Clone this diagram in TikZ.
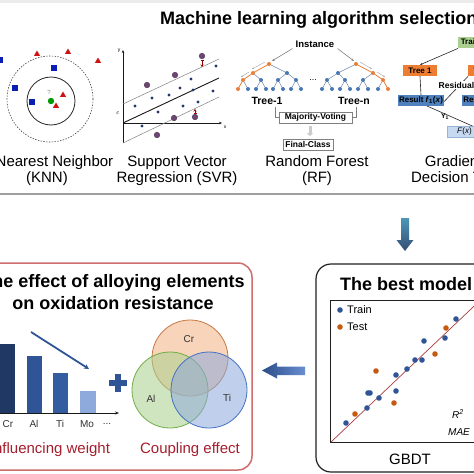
\documentclass[tikz,border=0pt]{standalone}
\usepackage{fontspec}
\setmainfont{Liberation Sans}
\usetikzlibrary{arrows.meta,shapes.geometric}
\newcommand\setfs[1]{\fontsize{#1}{#1}\selectfont}
\definecolor{knnred}{RGB}{205,20,20}
\definecolor{knnblue}{RGB}{10,30,180}
\definecolor{svrdot}{RGB}{35,55,110}
\definecolor{svrpurp}{RGB}{110,70,115}
\definecolor{rforange}{RGB}{232,128,58}
\definecolor{rfblue}{RGB}{70,120,180}
\definecolor{rfedge}{RGB}{120,140,170}
\definecolor{gborange}{RGB}{237,125,49}
\definecolor{gbblue}{RGB}{79,129,189}
\definecolor{gblight}{RGB}{198,217,241}
\definecolor{gbgreen}{RGB}{169,208,142}
\definecolor{redtxt}{RGB}{165,30,45}
\definecolor{redbox}{RGB}{205,110,110}
\definecolor{navy1}{RGB}{31,56,100}
\definecolor{navy2}{RGB}{47,85,151}
\definecolor{navy3}{RGB}{52,92,160}
\definecolor{navy4}{RGB}{142,169,219}
\definecolor{crfill}{RGB}{244,177,131}
\definecolor{crdraw}{RGB}{197,120,70}
\definecolor{alfill}{RGB}{169,209,142}
\definecolor{aldraw}{RGB}{112,173,71}
\definecolor{tifill}{RGB}{142,169,219}
\definecolor{tidraw}{RGB}{68,114,196}
\definecolor{trainc}{RGB}{47,85,151}
\definecolor{testc}{RGB}{197,90,17}
\definecolor{fitline}{RGB}{170,60,60}
\tikzset{
  tri/.style={regular polygon,regular polygon sides=3,fill=knnred,inner sep=0pt,minimum size=7pt},
  sq/.style={rectangle,fill=knnblue,inner sep=0pt,minimum size=6pt},
  rfbox/.style={draw=gray,line width=0.6pt,inner sep=0pt,minimum height=11pt,font=\setfs{8.5}\bfseries},
  gbbox/.style={inner sep=0pt,minimum height=11pt,font=\setfs{8}\bfseries},
  ttl/.style={font=\setfs{18}\bfseries,inner sep=0pt},
  lbl/.style={font=\setfs{15},inner sep=0pt},
  redlbl/.style={font=\setfs{15},text=redtxt,inner sep=0pt},
  small/.style={font=\setfs{10},inner sep=0pt,text=black!80},
  ob/.style={fill=rfblue},
  oo/.style={fill=rforange},
  te/.style={draw=rfedge,line width=0.5pt},
  to/.style={draw=rforange,line width=0.8pt},
}
\begin{document}
\begin{tikzpicture}[x=1pt,y=-1pt]
\useasboundingbox (0,0) rectangle (474,474);
\clip (0,0) rectangle (474,474);
\fill[white] (0,0) rectangle (474,474);
\fill[gray!15] (0,0) rectangle (474,3);

% ---------- Title
\node[ttl,anchor=west] (title) at (160,20) {Machine learning algorithm selection};

% ---------- KNN
\draw[gray!50!black,line width=0.6pt,dash pattern=on 1.4pt off 1.4pt] (50,99) circle[radius=43];
\draw[gray!30!black,line width=0.8pt] (51,101) circle[radius=24];
\fill[green!60!black] (51,101) circle[radius=3.2];
\node[font=\setfs{6},text=gray,inner sep=0pt] (q) at (49,92) {?};
\node[tri] (t1) at (37,54) {};
\node[tri] (t2) at (68,52) {};
\node[tri] (t3) at (98,61) {};
\node[tri] (t4) at (63,95) {};
\node[tri] (t5) at (56,106) {};
\node[sq] (s1) at (0,60) {};
\node[sq] (s2) at (54,68) {};
\node[sq] (s3) at (15,88) {};
\node[sq] (s4) at (32,102) {};

% ---------- SVR
\draw[gray!20!black,line width=0.6pt,-{Stealth[length=3pt,width=2.5pt]}] (123,143) -- (123,50);
\draw[gray!20!black,line width=0.6pt,-{Stealth[length=3pt,width=2.5pt]}] (123,123) -- (222,123);
\node[font=\setfs{5},inner sep=0pt] (ylab) at (119,51) {y};
\node[font=\setfs{5},inner sep=0pt] (xlab) at (225,127) {x};
\node[font=\setfs{6},inner sep=0pt] (eps) at (118,113) {$\varepsilon$};
\draw[gray!20!black,line width=0.9pt] (123,123) -- (219,78);
\draw[gray,line width=0.5pt] (123,104) -- (219,59);
\draw[gray,line width=0.5pt] (123,143) -- (219,97);
\foreach \p in {(135,106),(152,98),(158,112),(169,95),(180,88),(183,106),(191,79),(193,90),(198,102),(213,91),(216,66),(142,126)}
  \fill[svrdot] \p circle[radius=1.7];
\foreach \p in {(147,85),(175,75),(202,56),(174,118),(195,117),(157,135)}
  \filldraw[fill=svrpurp,draw=svrpurp!70!black,line width=0.4pt] \p circle[radius=2.8];
\draw[{Bar[width=3pt]}-{Stealth[length=2.5pt,width=3pt]},red!60!black,line width=0.8pt] (202,59.5) -- (202,67);
\draw[{Bar[width=3pt]}-{Stealth[length=2.5pt,width=3pt]},red!60!black,line width=0.8pt] (195,114) -- (195,109);

% ---------- Random forest
\node[font=\setfs{9.5}\bfseries,inner sep=1pt] (inst) at (315,44) {Instance};
\draw[gray,line width=0.6pt,-{Stealth[length=3pt]}] (inst.south west) ++(-2,0) -- (272,61);
\draw[gray,line width=0.6pt,-{Stealth[length=3pt]}] (inst.south east) ++(2,0) -- (354,61);
% tree 1
\coordinate (a0) at (269,64);
\coordinate (a1) at (253,73); \coordinate (a2) at (287,73);
\coordinate (a3) at (243,80); \coordinate (a4) at (261,80);
\coordinate (a5) at (278,80); \coordinate (a6) at (296,80);
\draw[te] (a0)--(a2) (a1)--(a4) (a2)--(a5) (a2)--(a6);
\draw[to] (a0)--(a1) (a1)--(a3);
\foreach \n/\x in {a3/248,a4/256,a4/266,a5/273,a5/283,a6/291,a6/301}
  {\draw[te] (\n) -- (\x,89); \fill[rfblue] (\x,89) circle[radius=2];}
\draw[to] (a3) -- (238,89); \fill[rforange] (238,89) circle[radius=2];
\foreach \n in {a2,a4,a5,a6} \fill[rfblue] (\n) circle[radius=2];
\foreach \n in {a0,a1,a3} \fill[rforange] (\n) circle[radius=2];
\draw[gray!70,line width=0.4pt,-{Stealth[length=2pt]}] (265,62) -- (252,69);
\draw[gray!70,line width=0.4pt,-{Stealth[length=2pt]}] (249,72) -- (241,77);
% tree n
\coordinate (b0) at (356,64);
\coordinate (b1) at (338,73); \coordinate (b2) at (373,73);
\coordinate (b3) at (327,80); \coordinate (b4) at (345,80);
\coordinate (b5) at (363,80); \coordinate (b6) at (383,80);
\draw[te] (b0)--(b1) (b1)--(b3) (b1)--(b4) (b2)--(b5);
\draw[to] (b0)--(b2) (b2)--(b6);
\foreach \n/\x in {b3/322,b3/332,b4/340,b4/350,b5/358,b5/368,b6/378}
  {\draw[te] (\n) -- (\x,89); \fill[rfblue] (\x,89) circle[radius=2];}
\draw[to] (b6) -- (388,89); \fill[rforange] (388,89) circle[radius=2];
\foreach \n in {b1,b3,b4,b5} \fill[rfblue] (\n) circle[radius=2];
\foreach \n in {b0,b2,b6} \fill[rforange] (\n) circle[radius=2];
\draw[gray!70,line width=0.4pt,-{Stealth[length=2pt]}] (360,62) -- (372,69);
\draw[gray!70,line width=0.4pt,-{Stealth[length=2pt]}] (377,72) -- (385,77);
\node[font=\setfs{9},inner sep=0pt] (dots) at (313,80) {...};
\node[font=\setfs{10.5}\bfseries,inner sep=0pt] (tr1) at (267,101) {Tree-1};
\node[font=\setfs{10.5}\bfseries,inner sep=0pt] (trn) at (354,101) {Tree-n};
\node[rfbox,minimum width=73pt] (mv) at (315.5,117.5) {Majority-Voting};
\draw[gray,line width=0.6pt] (275,107) -- (275,117.5) -- (mv.west);
\draw[gray,line width=0.6pt] (356,107) -- (356,117.5) -- (mv.east);
\node[rfbox,minimum width=50pt] (fc) at (308,144.5) {Final-Class};
\draw[gray!40,line width=3pt,-{Triangle[length=3pt,width=6pt]}] (310,126) -- (310,136);

% ---------- GBDT
\node[gbbox,fill=gbgreen,anchor=north west,minimum width=50pt] (train) at (458,37) {Training set};
\node[gbbox,fill=gborange,minimum width=34pt] (tree1) at (420,70.5) {Tree 1};
\node[gbbox,fill=gborange,anchor=north west,minimum width=34pt] (tree2) at (468,65) {Tree 2};
\node[gbbox,fill=gbblue,minimum width=46pt] (res1) at (421,100.5) {Result \textit{f}\textsubscript{1}(\textit{x})};
\node[gbbox,fill=gbblue,anchor=north west,minimum width=46pt] (res2) at (462,95) {Result \textit{f}\textsubscript{2}(\textit{x})};
\draw[gray!30!black,line width=0.6pt,-{Stealth[length=2.5pt]}] (train.south west) -- (tree1.north);
\draw[gray!30!black,line width=0.6pt] (tree1.south) -- (res1.north);
\draw[gray!30!black,line width=0.6pt] (res1.east) ++(0,1) -- (tree2.south west);
\node[font=\setfs{8.5}\bfseries,fill=white,inner sep=0.5pt,anchor=west] (resid) at (438,85) {Residual};
\draw[gray!30!black,line width=0.6pt] (427,106) -- (495,136);
\node[font=\setfs{7}\bfseries,inner sep=0pt] (y1) at (445,117) {Y\textsubscript{1}};
\node[gbbox,fill=gblight,draw=gbblue!60,anchor=north west,minimum width=60pt,font=\setfs{8}] (fx) at (447,126) {\textit{F}(\textit{x}) = \textit{f}\textsubscript{1}(\textit{x})};

% ---------- algorithm labels
\node[lbl,align=center] (lknn) at (47,171) {K-Nearest Neighbor\\[1pt](KNN)};
\node[lbl,align=center] (lsvr) at (177,171) {Support Vector\\[1pt]Regression (SVR)};
\node[lbl,align=center] (lrf) at (317,171) {Random Forest\\[1pt](RF)};
\node[lbl,align=center] (lgb) at (485,171) {Gradient Boosting\\[1pt]Decision Tree (GBDT)};

\draw[gray!75,line width=2pt] (0,194) -- (474,194);

% ---------- down arrow
\shade[top color=blue!30!cyan!60!black!70,bottom color=navy1!90] (401,218) -- (409,218) -- (409,240) -- (413.5,240) -- (405,251) -- (396.5,240) -- (401,240) -- cycle;

% ---------- left panel
\draw[redbox,line width=1.5pt,rounded corners=14pt] (-20,263) rectangle (252,470);
\node[ttl] (ltitle1) at (113,283) {The effect of alloying elements};
\node[ttl] (ltitle2) at (113,303) {on oxidation resistance};
\fill[navy1] (-1,344) rectangle (15,413);
\fill[navy2] (27,356) rectangle (42,413);
\fill[navy3] (53,373) rectangle (68,413);
\fill[navy4] (80,391) rectangle (96,413);
\draw[gray!20!black,line width=0.8pt,-{Stealth[length=4pt]}] (0,413) -- (119,413);
\node[small] (lcr) at (8,424) {Cr};
\node[small] (lal) at (34,424) {Al};
\node[small] (lti) at (60,424) {Ti};
\node[small] (lmo) at (87,424) {Mo};
\node[small] (ldots) at (107,424) {...};
\draw[navy2,line width=1.8pt,-{Stealth[length=5pt,width=5pt]}] (31,332) -- (89,369);
\node[redlbl] (infl) at (50,450) {Influencing weight};
\fill[navy2] (109,380) rectangle (127,386);
\fill[navy2] (115,374) rectangle (121,392);
\filldraw[fill=crfill,fill opacity=0.55,draw=crdraw,line width=0.8pt] (190,358) circle[radius=38];
\filldraw[fill=alfill,fill opacity=0.55,draw=aldraw,line width=0.8pt] (170,390) circle[radius=38];
\filldraw[fill=tifill,fill opacity=0.55,draw=tidraw,line width=0.8pt] (209,390) circle[radius=38];
\node[small] (vcr) at (189,339) {Cr};
\node[small] (val) at (151,399) {Al};
\node[small] (vti) at (227,398) {Ti};
\node[redlbl] (coup) at (190,450) {Coupling effect};

% ---------- left arrow
\shade[left color=navy2!90!black,right color=tidraw!80] (262,370.5) -- (277,362.5) -- (277,366.5) -- (305,366.5) -- (305,375) -- (277,375) -- (277,378.5) -- cycle;

% ---------- right panel
\draw[gray!25!black,line width=1.2pt,rounded corners=15pt] (316,264) rectangle (520,472);
\node[ttl,anchor=west] (rtitle) at (340,284) {The best model};
\draw[gray!25!black,line width=1pt] (490,300) -- (330,300) -- (330,442) -- (490,442);
\draw[fitline,line width=0.7pt] (331,442) -- (480,300.5);
\fill[trainc] (340,310) circle[radius=2.8];
\node[font=\setfs{11},inner sep=0pt,anchor=west] (ltrain) at (347,310) {Train};
\fill[testc] (340,327) circle[radius=2.8];
\node[font=\setfs{11},inner sep=0pt,anchor=west] (ltest) at (347,327) {Test};
\foreach \p in {(346,423),(367,408),(368,393),(370,393),(379,398),(396,375),(396,391),(407,369),(415,360),(422,360),(424,341),(445,338),(456,319)}
  \fill[trainc] \p circle[radius=2.8];
\foreach \p in {(355,414),(376,371),(394,403),(435,354),(446,328)}
  \fill[testc] \p circle[radius=2.8];
\node[font=\setfs{10}\itshape,inner sep=0pt,anchor=west] (r2) at (452,414) {R\textsuperscript{2}};
\node[font=\setfs{10}\itshape,inner sep=0pt,anchor=west] (mae) at (448,432) {MAE};
\node[lbl] (gbdt) at (410,459) {GBDT};
\end{tikzpicture}
\end{document}
